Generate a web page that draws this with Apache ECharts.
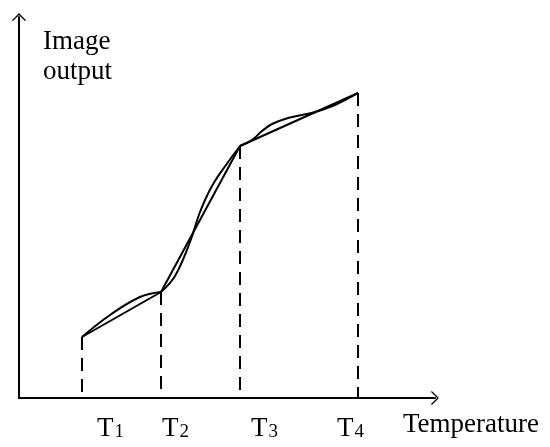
<!DOCTYPE html>
<html><head><meta charset="utf-8">
<script src="https://cdn.jsdelivr.net/npm/echarts@6/dist/echarts.min.js"></script>
<style>html,body{margin:0;padding:0;background:#fff}#c{width:550px;height:447px}</style>
</head><body><div id="c"></div>
<script>
// Breakpoints T1..T4 (temperature, image output) in chart units
const tSubs = ['1', '2', '3', '4'];
const tX = [63, 142, 221, 339];
const tY = [61, 106, 252, 305];
// Tick label anchor values on the temperature axis
const tickLabelX = [78, 143, 232, 318];
const curveSeg1 = [[63, 61], [91, 83], [121, 101], [142, 106]];
const curveSeg2 = [[142, 106], [156, 122], [171, 156], [181, 186], [193, 212], [207, 233], [221, 252]];
const curveSeg3 = [[221, 252], [233, 258], [243, 267], [253, 274], [266, 279], [283, 283], [296, 286], [316, 293], [339, 305]];
const axisNames = { x: 'Temperature', y: 'Image\noutput' };

const chev = 'path://M0,7.2 L7,0 L14,7.2 L13,8 L7,1.9 L1,8 Z';
const serif = '"Liberation Serif", "Times New Roman", serif';
const black = '#000';

const series = [];
series.push({
  type: 'line', data: tX.map((x, i) => [x, tY[i]]), symbol: 'none', smooth: false,
  lineStyle: { color: black, width: 2 }, silent: true, z: 3
});
[curveSeg1, curveSeg2, curveSeg3].forEach(seg => series.push({
  type: 'line', data: seg, symbol: 'none', smooth: 0.4,
  lineStyle: { color: black, width: 2 }, silent: true, z: 3
}));
tX.forEach((x, i) => series.push({
  type: 'line', data: [[x, tY[i]], [x, 0]], symbol: 'none',
  lineStyle: { color: black, width: 2, type: [13, 8] }, silent: true, z: 2
}));

const chart = echarts.init(document.getElementById('c'), null, { renderer: 'canvas' });
chart.setOption({
  animation: false,
  backgroundColor: '#fff',
  title: [
    { text: axisNames.y, left: 43, top: 27, padding: 0,
      textStyle: { fontFamily: serif, fontSize: 27, fontWeight: 'normal', color: black, lineHeight: 30 } },
    { text: axisNames.x, left: 403, top: 410, padding: 0,
      textStyle: { fontFamily: serif, fontSize: 27, fontWeight: 'normal', color: black, lineHeight: 30 } }
  ],
  grid: { left: 19, right: 115, top: 17, bottom: 49, containLabel: false },
  xAxis: {
    type: 'value', min: 0, max: 416,
    axisLine: { show: true, onZero: false, symbol: ['none', chev], symbolSize: [14, 8],
      lineStyle: { color: black, width: 2 } },
    axisTick: { show: false },
    splitLine: { show: false },
    axisLabel: {
      show: true, customValues: tickLabelX, margin: 14, align: 'left',
      formatter: v => { const i = tickLabelX.indexOf(v); return i < 0 ? '' : '{t|T}{s|' + tSubs[i] + '}'; },
      rich: {
        t: { fontFamily: serif, fontSize: 27, color: black, lineHeight: 30, verticalAlign: 'bottom' },
        s: { fontFamily: serif, fontSize: 19, color: black, lineHeight: 30, verticalAlign: 'bottom', padding: [0, 0, 0, 1] }
      }
    }
  },
  yAxis: {
    type: 'value', min: 0, max: 381,
    axisLine: { show: true, onZero: false, symbol: ['none', chev], symbolSize: [14, 8],
      lineStyle: { color: black, width: 2 } },
    axisTick: { show: false },
    splitLine: { show: false },
    axisLabel: { show: false }
  },
  series: series
});
</script>
</body></html>
